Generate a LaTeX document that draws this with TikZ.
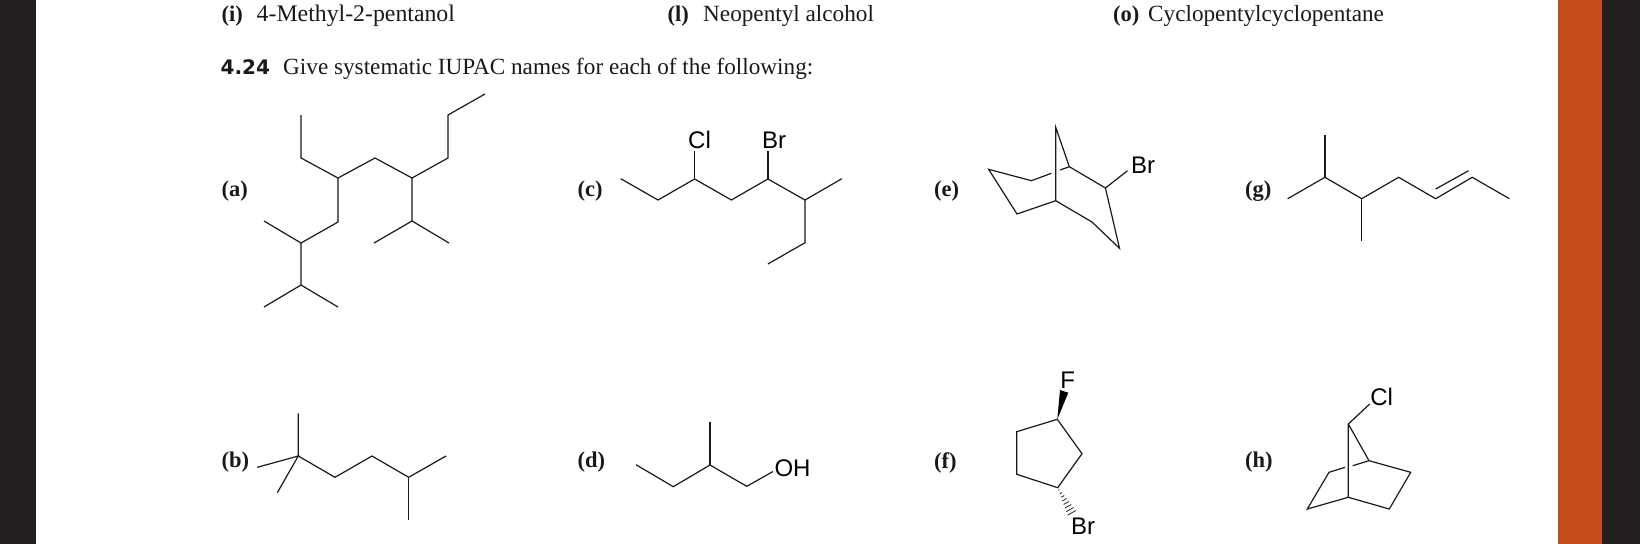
\documentclass[tikz,border=0pt]{standalone}
\usepackage{fontspec}
\setmainfont{Liberation Serif}
\newfontfamily\atomfont{Liberation Sans}
\newfontfamily\numberfont{DejaVu Sans}
\usetikzlibrary{calc}
\definecolor{barblack}{HTML}{231F20}
\definecolor{barorange}{HTML}{C64D1B}
\begin{document}
\begin{tikzpicture}
	[x=1pt,y=-1pt,bond/.style={line width=1.2pt,line join=miter,black!90},
	  booktext/.style={anchor=base west,inner sep=0pt,font=\fontsize{23.2}{23}\selectfont,black!90},
	  partlabel/.style={anchor=west,inner sep=0pt,font=\fontsize{22.5}{23}\selectfont\bfseries,black!90},
	  atom/.style={inner sep=0pt,font=\fontsize{24}{25}\selectfont\atomfont}]
	\useasboundingbox (0,0) rectangle (1640,544);
	\fill[barblack] (0,0) rectangle (36,544);
	\fill[barorange] (1558,0) rectangle (1602,544);
	\fill[barblack] (1602,0) rectangle (1640,544);
	% text of the page
	\node[booktext,font=\fontsize{22.5}{23}\selectfont\bfseries] (parti) at (221.5,21) {(i)};
	\node[booktext,font=\fontsize{23.8}{23}\selectfont] (namei) at (256.5,21) {4-Methyl-2-pentanol};
	\node[booktext,font=\fontsize{22.5}{23}\selectfont\bfseries] (partl) at (667.5,21) {(l)};
	\node[booktext] (namel) at (703,21) {Neopentyl alcohol};
	\node[booktext,font=\fontsize{22.5}{23}\selectfont\bfseries] (parto) at (1113,21) {(o)};
	\node[booktext] (nameo) at (1148,21) {Cyclopentylcyclopentane};
	\node[booktext,font=\fontsize{20}{21}\selectfont\numberfont\bfseries] (number) at (220.5,74) {4.24};
	\node[booktext] (question) at (283,74) {Give systematic IUPAC names for each of the following:};
	% part labels
	\node[partlabel] (parta) at (221.5,191) {(a)};
	\node[partlabel] (partc) at (577.5,191) {(c)};
	\node[partlabel] (parte) at (934,191) {(e)};
	\node[partlabel] (partg) at (1245,191) {(g)};
	\node[partlabel] (partb) at (221.5,462.5) {(b)};
	\node[partlabel] (partd) at (577.5,462.5) {(d)};
	\node[partlabel] (partf) at (934,462.5) {(f)};
	\node[partlabel] (parth) at (1245,462.5) {(h)};
	% (a)
	\foreach \name/\x/\y in {a1/301/115,a2/301/158,a3/338/178,a4/375/158,a5/412/178,a6/448/158,a7/448/115,a8/485/94,
	  a9/338/222,a10/301/243,a11/264/221,a12/301/285,a13/264/307,a14/338/307,a15/412/221,a16/374/243,a17/449/243}
	  \coordinate (\name) at (\x,\y);
	\draw[bond] (a1) -- (a2) -- (a3) -- (a4) -- (a5) -- (a6) -- (a7) -- (a8);
	\draw[bond] (a3) -- (a9) -- (a10) -- (a11);
	\draw[bond] (a10) -- (a12) -- (a13);
	\draw[bond] (a12) -- (a14);
	\draw[bond] (a5) -- (a15) -- (a16);
	\draw[bond] (a15) -- (a17);
	% (c)
	\foreach \name/\x/\y in {c1/620.7/178.7,c2/658/200,c3/694.6/179,c4/731.4/200,c5/767.9/179,c6/805/200,
	  c7/841.8/178.7,c8/805/242.7,c9/767.9/264,c10/694.6/151,c11/767.9/151}
	  \coordinate (\name) at (\x,\y);
	\node[atom] (ccl) at (699.5,140) {Cl};
	\node[atom] (cbr) at (774,140) {Br};
	\draw[bond] (c1) -- (c2) -- (c3) -- (c4) -- (c5) -- (c6) -- (c7);
	\draw[bond] (c6) -- (c8) -- (c9);
	\draw[bond] (c3) -- (c10);
	\draw[bond] (c5) -- (c11);
	% (e)
	\foreach \name/\x/\y in {e1/1055.7/127.3,e2/1055.7/200.7,e3/1069.3/166.7,e4/1105.4/188,e5/988.6/169.3,e6/1031.4/180.7,
	  e7/1051.4/173.3,e8/1060/170,e9/1017/214,e10/1092/222,e11/1119.5/248.3,e12/1127.5/170.7}
	  \coordinate (\name) at (\x,\y);
	\node[atom] (ebr) at (1143,165) {Br};
	\draw[bond] (e3) -- (e1) -- (e2) -- (e9) -- (e5) -- (e6) -- (e7);
	\draw[bond] (e8) -- (e3) -- (e4) -- (e11) -- (e10) -- (e2);
	\draw[bond] (e4) -- (e12);
	% (g)
	\foreach \name/\x/\y in {g1/1287.7/198.7,g2/1324.9/177.3,g3/1324.9/134.7,g4/1361.7/198.7,g5/1361.7/241,g6/1398.6/177.3,
	  g7/1435.7/198.7,g8/1472.2/177.3,g9/1509.4/198.7,g10/1435.7/189,g11/1468.5/170.7}
	  \coordinate (\name) at (\x,\y);
	\draw[bond] (g1) -- (g2) -- (g4) -- (g6) -- (g7) -- (g8) -- (g9);
	\draw[bond] (g3) -- (g2);
	\draw[bond] (g4) -- (g5);
	\draw[bond] (g10) -- (g11);
	% (b)
	\foreach \name/\x/\y in {b1/298.3/456,b2/298.3/413.3,b3/257.3/467.3,b4/277.3/492.7,b5/335/477.3,b6/372/456,
	  b7/408.7/477.3,b8/446/456,b9/408.7/520}
	  \coordinate (\name) at (\x,\y);
	\draw[bond] (b2) -- (b1) -- (b5) -- (b6) -- (b7) -- (b8);
	\draw[bond] (b3) -- (b1) -- (b4);
	\draw[bond] (b7) -- (b9);
	% (d)
	\foreach \name/\x/\y in {d1/636/464.7,d2/673.3/486.7,d3/710/465,d4/710/422.3,d5/746.7/486.3,d6/773/471.5}
	  \coordinate (\name) at (\x,\y);
	\node[atom] (doh) at (792.5,468) {OH};
	\draw[bond] (d1) -- (d2) -- (d3) -- (d5) -- (d6);
	\draw[bond] (d3) -- (d4);
	% (f)
	\foreach \name/\x/\y in {f1/1057.3/419.3,f2/1016.7/431.7,f3/1016.7/474.3,f4/1057.7/487.7,f5/1082/453.7,
	  f6/1060/390,f7/1068.3/392.7,f8/1073/515}
	  \coordinate (\name) at (\x,\y);
	\node[atom] (ff) at (1067.7,380) {F};
	\node[atom] (fbr) at (1083,526.5) {Br};
	\draw[bond] (f1) -- (f2) -- (f3) -- (f4) -- (f5) -- cycle;
	\fill[black] (f1) -- (f6) -- (f7) -- cycle;
	\foreach \t/\w in {.08/.6,.2/1.2,.32/1.8,.44/2.4,.56/3,.68/3.6,.8/4.2,.92/4.8}
	  \draw[line width=.8pt,black!85] ($(f4)!\t!(f8)+(-.87*\w,.49*\w)$) -- ($(f4)!\t!(f8)+(.87*\w,-.49*\w)$);
	% (h)
	\foreach \name/\x/\y in {h1/1348.3/424,h2/1369.7/404,h3/1348.3/497.3,h4/1369/460.7,h5/1410.7/472.3,h6/1389.3/509,
	  h7/1307.3/509,h8/1329/472.3,h9/1345/467.3,h10/1352.7/465.7}
	  \coordinate (\name) at (\x,\y);
	\node[atom] (hcl) at (1381.7,396.5) {Cl};
	\draw[bond] (h2) -- (h1) -- (h3) -- (h7) -- (h8) -- (h9);
	\draw[bond] (h1) -- (h4) -- (h5) -- (h6) -- (h3);
	\draw[bond] (h10) -- (h4);
\end{tikzpicture}
\end{document}
